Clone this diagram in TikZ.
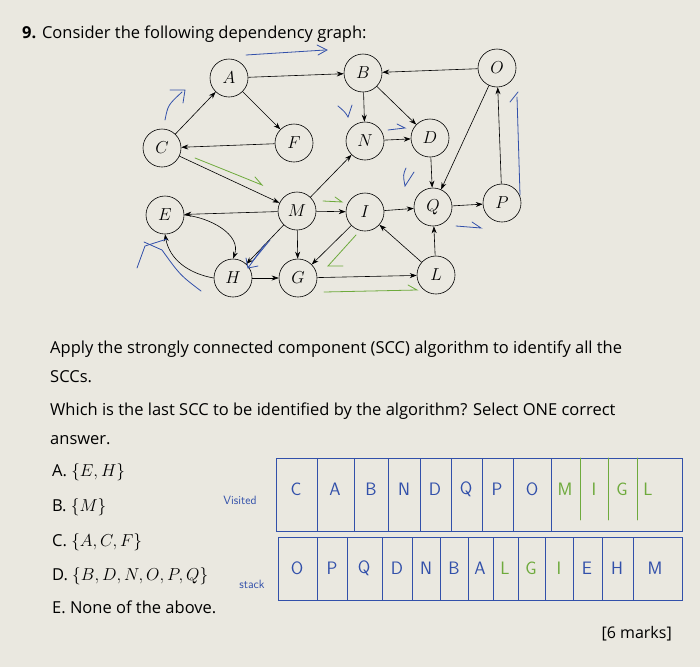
\documentclass[tikz,border=0pt]{standalone}
\usepackage{fontspec}
\setmainfont{Open Sans}
\usetikzlibrary{arrows.meta}
\definecolor{bg}{RGB}{234,232,224}
\definecolor{pen}{RGB}{50,80,170}
\definecolor{grn}{RGB}{110,170,60}
\begin{document}
\begin{tikzpicture}[x=1pt,y=-1pt,
  v/.style={circle,draw,semithick,minimum size=38pt,inner sep=0pt,font=\fontsize{19}{19}\selectfont},
  e/.style={-{Stealth[length=7pt,width=5pt]},semithick},
  bl/.style={pen,thick,line cap=round},
  gr/.style={grn,thick,line cap=round},
  txt/.style={anchor=base west,inner sep=0pt,font=\fontsize{16.5}{20}\selectfont},
  hw/.style={font=\fontsize{18}{18}\sffamily,inner sep=0pt}]
\fill[bg] (0,0) rectangle (700,667);
\useasboundingbox (0,0) rectangle (700,667);
% nodes
\node[v] (A) at (229,78) {$A$};
\node[v] (B) at (363,73) {$B$};
\node[v] (O) at (497,68) {$O$};
\node[v] (C) at (162,148) {$C$};
\node[v] (F) at (294,143) {$F$};
\node[v] (N) at (365,141) {$N$};
\node[v] (D) at (430,138) {$D$};
\node[v] (E) at (165,215) {$E$};
\node[v] (M) at (297,211) {$M$};
\node[v] (I) at (365,212) {$I$};
\node[v] (Q) at (433,207) {$Q$};
\node[v] (P) at (502,203) {$P$};
\node[v] (H) at (233,278) {$H$};
\node[v] (G) at (298,278) {$G$};
\node[v] (L) at (436,275) {$L$};
% edges
\draw[e] (A)--(B); \draw[e] (O)--(B); \draw[e] (A)--(F); \draw[e] (C)--(A);
\draw[e] (F)--(C); \draw[e] (B)--(N); \draw[e] (B)--(D); \draw[e] (N)--(D);
\draw[e] (D)--(Q); \draw[e] (O)--(Q); \draw[e] (P)--(O); \draw[e] (C)--(M);
\draw[e] (M)--(E); \draw[e] (M)--(N); \draw[e] (M)--(I); \draw[e] (I)--(Q);
\draw[e] (Q)--(P); \draw[e] (M)--(G); \draw[e] (M)--(H); \draw[e] (I)--(G);
\draw[e] (L)--(I); \draw[e] (L)--(Q); \draw[e] (H)--(G); \draw[e] (G)--(L);
\draw[e] (E.east) to[out=-5,in=70] (H.north);
\draw[e] (H.west) to[out=170,in=-80] (E.south);
% annotations
\draw[bl] (246,55)--(325,50); \draw[bl] (317,45)--(327,50)--(318,55);
\draw[bl] (165,120) .. controls (168,105) .. (182,92); \draw[bl] (170,90)--(185,90)--(183,103);
\draw[bl] (338,106) .. controls (345,112) .. (348,117)--(352,105);
\draw[bl] (388,130)--(405,128)--(397,124);
\draw[bl] (406,168) .. controls (403,175) .. (405,186) -- (414,172);
\draw[bl] (517,97)--(520,195); \draw[bl] (510,102)--(518,92);
\draw[bl] (456,226)--(481,228)--(472,222);
\draw[bl] (265,244)--(248,268); \draw[bl] (270,240)--(252,262);
\draw[bl] (246,258)--(248,268)--(258,266);
\draw[bl] (201,291) .. controls (180,275) .. (162,250) -- (144,242);
\draw[bl] (137,268)--(145,246)--(167,239);
\draw[gr] (195,158) .. controls (230,172) .. (262,185)--(255,177);
\draw[gr] (323,201)--(342,202)--(335,197);
\draw[gr] (356,235)--(328,266)--(343,266);
\draw[gr] (324,292)--(417,290)--(408,285);
% text
\node[txt] at (22,38) {\textbf{9.} Consider the following dependency graph:};
\node[txt] at (50,353) {Apply the strongly connected component (SCC) algorithm to identify all the};
\node[txt] at (50,382) {SCCs.};
\node[txt] at (50,415) {Which is the last SCC to be identified by the algorithm? Select ONE correct};
\node[txt] at (50,444) {answer.};
\node[txt] at (52,476) {A. $\{E,H\}$};
\node[txt] at (52,511) {B. $\{M\}$};
\node[txt] at (52,546) {C. $\{A,C,F\}$};
\node[txt] at (52,580) {D. $\{B,D,N,O,P,Q\}$};
\node[txt] at (52,613) {E. None of the above.};
\node[anchor=base east,inner sep=0pt,font=\fontsize{16}{16}\rmfamily] at (672,638) {[6 marks]};
\node[pen,inner sep=0pt,font=\fontsize{12}{12}\sffamily] at (240,500) {Visited};
\node[pen,inner sep=0pt,font=\fontsize{12}{12}\sffamily] at (252,584) {stack};
% tables
\draw[pen,thick] (276,458) rectangle (682,531);
\foreach \x in {317,354,388,420,451,482,513,551} \draw[pen,thick] (\x,458)--(\x,531);
\foreach \x in {580,608,637} \draw[gr,thick] (\x,458)--(\x,520);
\foreach \t/\x/\c in {C/296/pen,A/335/pen,B/371/pen,N/404/pen,D/435/pen,Q/466/pen,P/497/pen,O/532/pen,M/565/grn,I/594/grn,G/622/grn,L/648/grn}
  \node[hw,text=\c] at (\x,489) {\t};
\draw[pen,thick] (278,537) rectangle (682,600);
\foreach \x in {317,347,382,412,440,468,493,518,545,573,602,633} \draw[pen,thick] (\x,537)--(\x,600);
\foreach \t/\x/\c in {O/297/pen,P/332/pen,Q/364/pen,D/397/pen,N/426/pen,B/454/pen,A/480/pen,L/505/grn,G/531/grn,I/559/grn,E/587/pen,H/617/pen,M/655/pen}
  \node[hw,text=\c] at (\x,568) {\t};
\end{tikzpicture}
\end{document}
